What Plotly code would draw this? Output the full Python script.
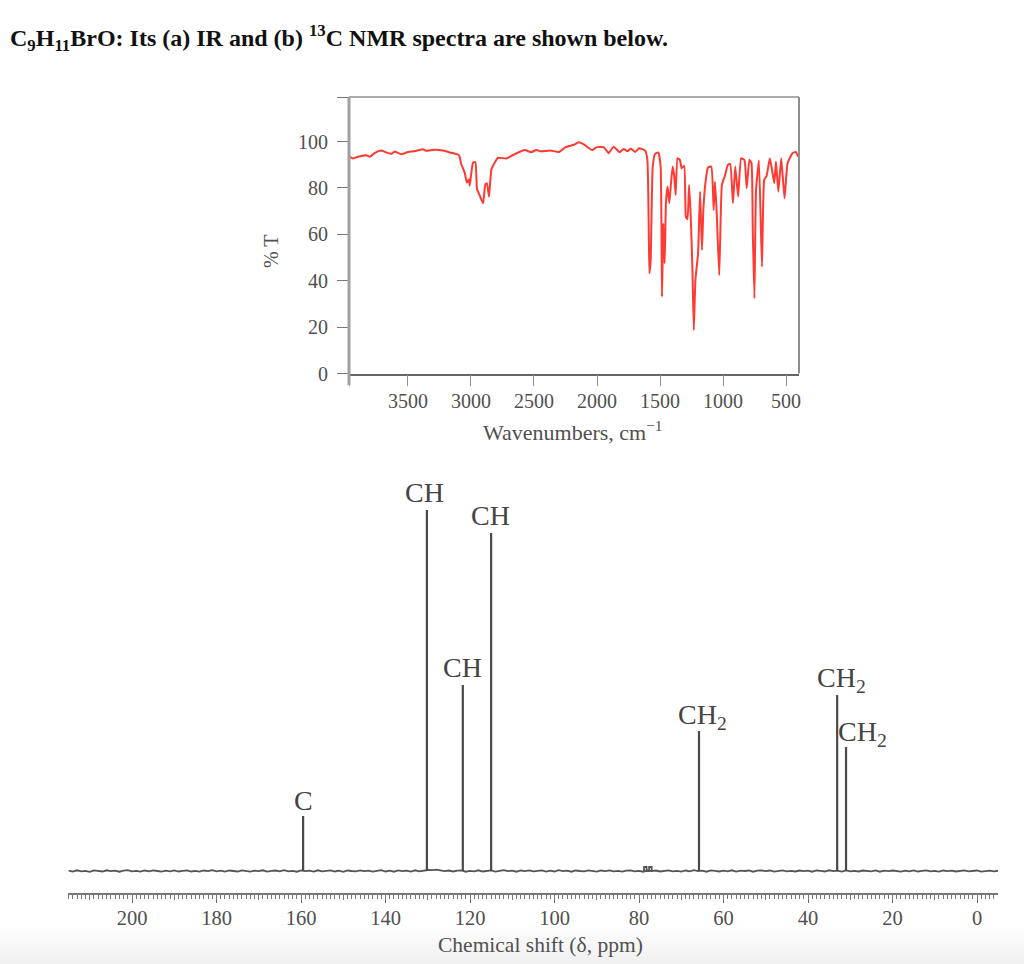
import plotly.graph_objects as go

W, H = 1024, 964

title_text = "<b>C<sub>9</sub>H<sub>11</sub>BrO: Its (a) IR and (b) <sup>13</sup>C NMR spectra are shown below.</b>"

# IR spectrum
ir_wavenumber = [
    3963, 3937, 3910, 3870, 3831, 3804, 3765, 3712, 3672, 3632, 3606, 3553, 3500, 3447, 3381, 3354,
    3302, 3222, 3169, 3095, 3077, 3050, 3032, 3016, 3010, 2997, 2984, 2965, 2952, 2931, 2904, 2886,
    2873, 2857, 2838, 2812, 2785, 2719, 2666, 2574, 2521, 2481, 2447, 2368, 2302, 2250, 2184, 2145,
    2105, 2039, 2000, 1947, 1908, 1868, 1821, 1789, 1758, 1732, 1697, 1666, 1618, 1600, 1589, 1584,
    1574, 1558, 1539, 1513, 1495, 1484, 1474, 1463, 1453, 1440, 1426, 1413, 1400, 1387, 1376, 1361,
    1342, 1329, 1308, 1295, 1282, 1269, 1255, 1242, 1232, 1219, 1198, 1182, 1167, 1156, 1140, 1119,
    1093, 1074, 1064, 1051, 1030, 1009, 987, 961, 943, 921, 903, 880, 856, 830, 812, 791,
    774, 764, 751, 738, 715, 691, 673, 654, 628, 593, 580, 561, 538, 512, 488, 449, 422, 404,
]
ir_transmittance = [
    93.4, 92.7, 93.2, 93.8, 94.1, 93.4, 95.0, 96.1, 95.3, 94.7, 95.7, 94.5, 95.5, 95.8, 96.7, 96.0,
    96.4, 96.1, 95.3, 94.1, 90.2, 86.6, 82.3, 83.7, 80.9, 86.6, 90.9, 91.2, 79.4, 76.8, 73.4, 81.6,
    82.0, 76.3, 88.0, 90.9, 93.0, 92.7, 94.2, 96.3, 95.4, 96.4, 95.8, 96.1, 95.5, 97.6, 98.6, 99.7,
    98.8, 96.3, 97.6, 97.6, 95.0, 97.8, 95.4, 96.8, 95.8, 97.0, 95.5, 97.1, 96.1, 92.0, 60.4, 43.2,
    48.9, 89.2, 94.7, 95.3, 89.2, 33.1, 64.7, 47.5, 73.4, 80.6, 73.4, 82.0, 89.2, 84.9, 77.0, 92.8,
    92.1, 88.5, 89.5, 67.6, 66.5, 81.3, 66.2, 43.2, 18.7, 40.3, 51.8, 78.4, 53.2, 70.5, 82.0, 88.8,
    89.2, 70.5, 82.7, 70.5, 42.4, 81.3, 84.9, 89.9, 90.4, 73.4, 89.2, 76.3, 92.8, 92.1, 79.9, 92.1,
    90.6, 61.9, 32.4, 79.1, 91.8, 46.0, 83.5, 85.2, 92.8, 82.0, 91.4, 78.4, 92.8, 75.5, 90.6, 95.0, 95.5, 93.5,
]
ir_x_ticks = [3968, 3500, 3000, 2500, 2000, 1500, 1000, 500]
ir_x_labels = ["", "3500", "3000", "2500", "2000", "1500", "1000", "500"]
ir_y_ticks = [0, 20, 40, 60, 80, 100, 119.2]
ir_y_labels = ["0", "20", "40", "60", "80", "100", ""]

# 13C NMR spectrum
peak_ppm = [159.5, 130.2, 121.7, 115.0, 65.8, 33.1, 31.0]
peak_height = [55, 361, 186, 338, 140, 176, 124]
peak_labels = ["C", "CH", "CH", "CH", "CH<sub>2</sub>", "CH<sub>2</sub>", "CH<sub>2</sub>"]
solvent_ppm = [78.8, 78.8, 78.2, 78.2, 77.6, 77.6, 77.0, 77.0]
solvent_height = [0, 4, 4, 0, 0, 4, 4, 0]
baseline_ppm = list(range(215, -6, -1))
baseline_height = [
    0.4, -0.6, 0.7, -0.3, 0.2, -0.8, 0.6, 0.1, -0.5, 0.7, -0.2, 0.4, -0.7, 0.3, 0.8, -0.4, 0.2, -0.6, 0.5, -0.3,
    0.7, 0.0, -0.7, 0.4, -0.3, 0.6, -0.5, 0.2, 0.7, -0.5, 0.1, -0.7, 0.5, -0.2, 0.8, -0.4, 0.3, -0.6, 0.5, 0.0,
    -0.5, 0.6, 0.2, -0.7, 0.4, -0.2, 0.7, -0.6, 0.1, 0.5, -0.4, 0.8, -0.3, 0.2, -0.7, 0.6, -0.1, 0.4, -0.6, 0.7,
    -0.3, 0.1, 0.6, -0.5, 0.3, -0.8, 0.5, 0.0, -0.4, 0.7, -0.2, 0.4, -0.6, 0.2, 0.8, -0.5, 0.3, -0.7, 0.6, -0.1,
    0.4, -0.6, 0.7, -0.3, 0.5, 1.0, 0.8, 1.4, 0.6, -0.2, 0.5, -0.5, 0.3, 0.6, -0.7, 0.2, -0.4, 0.7, -0.5, 0.1,
    0.6, -0.6, 0.3, 0.8, -0.2, 0.4, -0.7, 0.5, -0.1, 0.6, -0.4, 0.2, 0.7, -0.6, 0.3, -0.5, 0.8, -0.2, 0.4, -0.7,
    0.5, 0.0, -0.4, 0.6, 0.3, -0.7, 0.5, -0.2, 0.7, -0.4, 0.2, -0.6, 0.4, 0.7, -0.3, 0.1, -0.7, 0.6, -0.2, 0.5,
    -0.5, 0.3, 0.7, -0.4, 0.1, -0.6, 0.5, -0.3, 0.8, -0.1, 0.4, -0.7, 0.6, 0.2, -0.5, 0.3, -0.3, 0.7, -0.6, 0.4,
    0.0, 0.5, -0.7, 0.3, 0.6, -0.2, 0.5, -0.6, 0.2, 0.7, -0.4, 0.1, -0.5, 0.5, -0.2, 0.4, -0.7, 0.5, 0.1, -0.5,
    0.7, -0.2, 0.3, -0.6, 0.6, -0.3, 0.2, -0.5, 0.5, 0.0, -0.4, 0.6, -0.7, 0.3, -0.1, 0.5, 0.2, -0.6, 0.4, -0.3,
    0.6, -0.5, 0.2, 0.7, -0.4, 0.1, -0.6, 0.5, -0.2, 0.4, -0.5, 0.3, 0.6, -0.4, 0.1, 0.5, -0.6, 0.2, 0.4, -0.3, 0.3,
]
nmr_x_ticks = [200, 180, 160, 140, 120, 100, 80, 60, 40, 20, 0]

# label offsets from the top of each peak, in pixels
label_shift_x = [0, -2, 0, -1, 3, 4, -10]
label_shift_y = [-2, 0, 0, 0, -5, -4, -6]
label_anchor = ["center", "center", "center", "center", "center", "center", "left"]

SERIF = "Liberation Serif"
INK = "#505050"
AXIS_GREY = "#8f8f8f"

fig = go.Figure()

fig.add_trace(go.Scatter(
    x=ir_wavenumber, y=ir_transmittance, mode="lines",
    line=dict(color="#ff3a33", width=2, shape="spline", smoothing=0.4),
    xaxis="x", yaxis="y", showlegend=False,
))
fig.add_trace(go.Scatter(
    x=baseline_ppm, y=baseline_height, mode="lines",
    line=dict(color="#555555", width=1.8), xaxis="x2", yaxis="y2", showlegend=False,
))
fig.add_trace(go.Scatter(
    x=solvent_ppm, y=solvent_height, mode="lines",
    line=dict(color="#555555", width=1.8), xaxis="x2", yaxis="y2", showlegend=False,
))
for ppm, height in zip(peak_ppm, peak_height):
    fig.add_trace(go.Scatter(
        x=[ppm, ppm], y=[0, height], mode="lines",
        line=dict(color="#4a4a4a", width=2.2), xaxis="x2", yaxis="y2", showlegend=False,
    ))
# only carries the 10 ppm ticks
fig.add_trace(go.Scatter(x=[215], y=[0], mode="none", xaxis="x3", yaxis="y2", showlegend=False))


def page_text(text, x, y, size, color=INK, anchor="center", angle=0):
    return dict(
        text=text, xref="paper", yref="paper", x=x / W, y=1 - y / H,
        xanchor=anchor, yanchor="middle", showarrow=False, textangle=angle,
        font=dict(family=SERIF, size=size, color=color),
    )


annotations = [
    page_text(title_text, 8, 38, 24, color="#111111", anchor="left"),
    page_text("Wavenumbers, cm<sup>−1</sup>", 573, 431, 22),
    page_text("% T", 271, 251, 20, angle=-90),
    page_text("Chemical shift (δ, ppm)", 540, 945, 21.5),
]
for ppm, height, label, dx, dy, anchor in zip(
    peak_ppm, peak_height, peak_labels, label_shift_x, label_shift_y, label_anchor
):
    annotations.append(dict(
        text=label, x=ppm, y=height, xref="x2", yref="y2", xanchor=anchor, yanchor="bottom",
        xshift=dx, yshift=dy, showarrow=False,
        font=dict(family=SERIF, size=28, color="#444444"),
    ))

shapes = [
    # IR frame
    dict(type="line", xref="x domain", yref="y domain", x0=0, x1=1, y0=1, y1=1,
         line=dict(color=AXIS_GREY, width=1.5)),
    dict(type="line", xref="x domain", yref="y domain", x0=1, x1=1, y0=0, y1=1,
         line=dict(color=AXIS_GREY, width=2)),
    dict(type="line", xref="x domain", yref="y domain", x0=0, x1=0, y0=-0.042, y1=1,
         line=dict(color="#a0a0a0", width=3)),
]
# page fades to light grey at the bottom
fade = ["#fefefe", "#fcfcfc", "#fbfbfb", "#f9f9f9", "#f8f8f8", "#f6f6f6", "#f5f5f5", "#f3f3f3", "#f2f2f2", "#f1f1f1"]
for i, colour in enumerate(fade):
    shapes.append(dict(
        type="rect", xref="paper", yref="paper", x0=0, x1=1, layer="below", line_width=0, fillcolor=colour,
        y0=0, y1=1 - (924 + i * 4) / H,
    ))

fig.update_layout(
    template="none",
    width=W, height=H, autosize=False,
    margin=dict(l=0, r=0, t=0, b=0),
    paper_bgcolor="white", plot_bgcolor="rgba(0,0,0,0)",
    font=dict(family=SERIF, color=INK),
    annotations=annotations, shapes=shapes,
    xaxis=dict(
        domain=[349 / W, 799 / W], range=[3968, 397], anchor="y", automargin=False,
        tickmode="array", tickvals=ir_x_ticks, ticktext=ir_x_labels,
        ticks="outside", ticklen=11, tickwidth=1.2, tickcolor=AXIS_GREY,
        showline=True, linecolor="#666666", linewidth=1.5, showgrid=False, zeroline=False,
        tickfont=dict(family=SERIF, size=20, color=INK), ticklabelstandoff=-2,
    ),
    yaxis=dict(
        domain=[1 - 373.5 / H, 1 - 97 / H], range=[0, 119.2], anchor="x", automargin=False,
        tickmode="array", tickvals=ir_y_ticks, ticktext=ir_y_labels,
        ticks="outside", ticklen=11, tickwidth=1.2, tickcolor="#777777",
        showline=False, showgrid=False, zeroline=False,
        tickfont=dict(family=SERIF, size=20, color=INK), ticklabelstandoff=5,
    ),
    xaxis2=dict(
        domain=[68 / W, 998 / W], range=[215.15, -4.97], anchor="y2", automargin=False,
        tickmode="array", tickvals=nmr_x_ticks,
        ticks="outside", ticklen=8, tickwidth=1.2, tickcolor="#666666",
        minor=dict(dtick=1, ticks="outside", ticklen=4, tickwidth=1, tickcolor="#777777"),
        showline=True, linecolor="#777777", linewidth=1.5, showgrid=False, zeroline=False,
        tickfont=dict(family=SERIF, size=20.5, color=INK), ticklabelstandoff=-2,
    ),
    xaxis3=dict(
        domain=[68 / W, 998 / W], range=[215.15, -4.97], anchor="y2", overlaying="x2", automargin=False,
        dtick=10, ticks="outside", ticklen=6, tickwidth=1, tickcolor="#777777",
        showticklabels=False, showgrid=False, zeroline=False, showline=False,
    ),
    yaxis2=dict(
        domain=[1 - 893 / H, 1 - 480 / H], range=[-22, 391], anchor="x2",
        visible=False,
    ),
)

fig.write_html(
    "out.html",
    config={"responsive": False, "displayModeBar": False},
    default_width=W, default_height=H,
    post_script="document.body.style.margin = '0';",
)
